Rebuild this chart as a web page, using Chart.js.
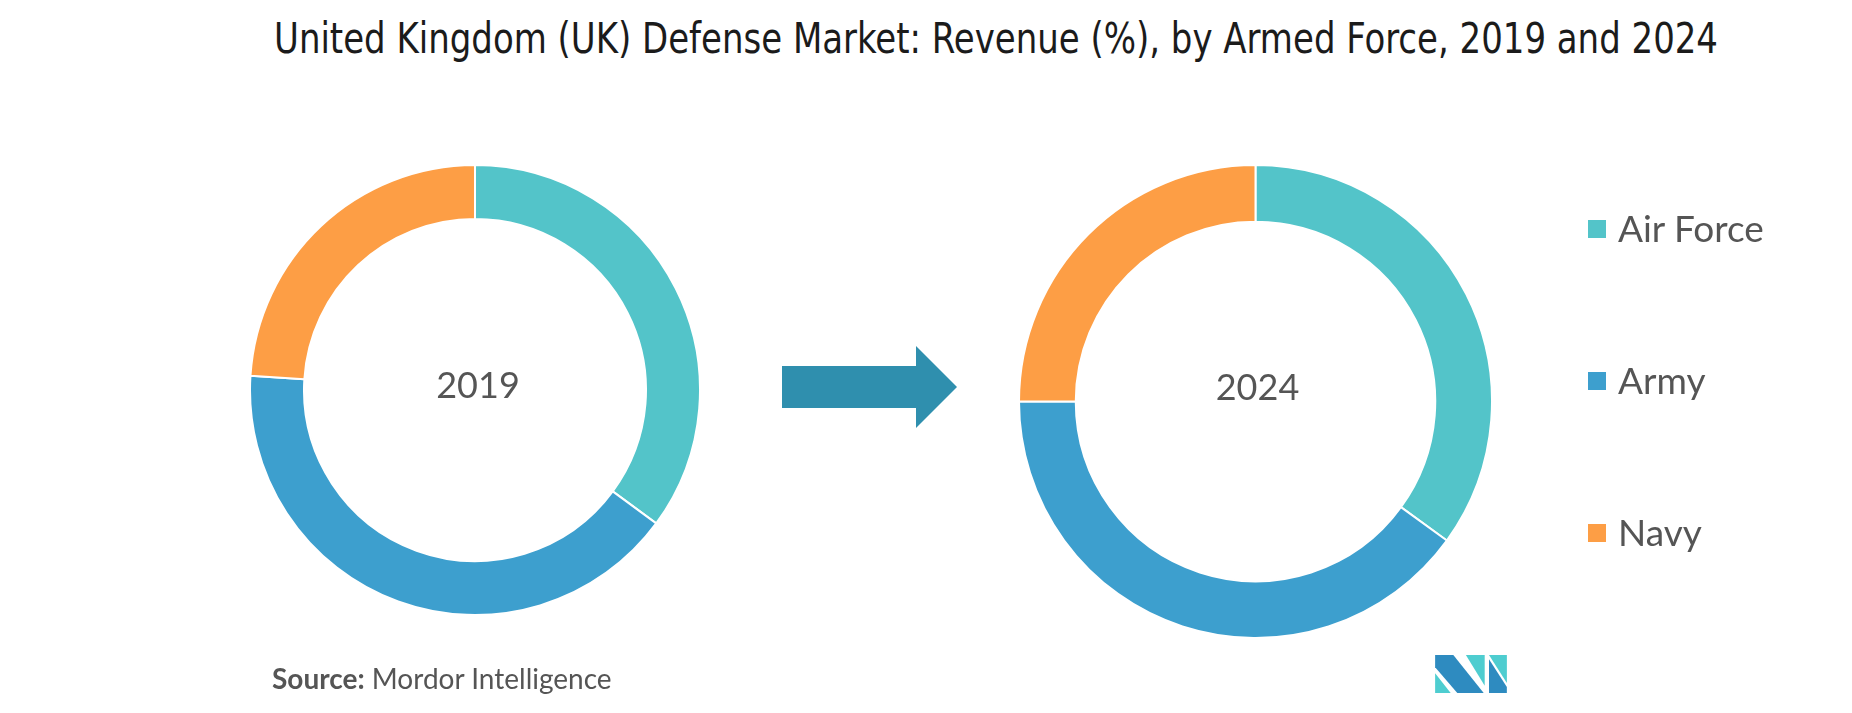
<!DOCTYPE html>
<html>
<head>
<meta charset="utf-8">
<script src="https://cdn.jsdelivr.net/npm/chart.js@4.4.1/dist/chart.umd.min.js"></script>
<style>
    html, body { margin: 0; padding: 0; background: #fff; }
    #page { position: relative; width: 1852px; height: 713px; overflow: hidden; font-family: Lato, 'Open Sans', sans-serif; }
    #title { position: absolute; left: 274px; top: 14px; white-space: nowrap; }
    #title span { display: inline-block; font-family: 'Liberation Sans Narrow', 'DejaVu Sans Condensed', Lato, sans-serif; font-size: 42px; color: #1b1b1b; transform-origin: left center; }
    .donut { position: absolute; }
    #legend { position: absolute; left: 1588px; top: 207px; }
    .leg-item { display: flex; align-items: center; height: 40px; margin-bottom: 112px; color: #555; font-size: 37px; }
    .leg-box { width: 18px; height: 18px; margin-right: 12px; margin-top: 4px; }
    #source { position: absolute; left: 272px; top: 661px; font-size: 28px; color: #555; white-space: nowrap; }
    #arrow, #logo { position: absolute; }
</style>
</head>
<body>
<div id="page">
    <div id="title"><span id="titleText">United Kingdom (UK) Defense Market: Revenue (%), by Armed Force, 2019 and 2024</span></div>

    <canvas id="chart2019" class="donut" width="452" height="452" style="left:248.5px; top:164px;"></canvas>
    <canvas id="chart2024" class="donut" width="475" height="475" style="left:1018px; top:163.5px;"></canvas>

    <svg id="arrow" width="1852" height="713" style="left:0; top:0; pointer-events:none;">
        <polygon points="782,366 916,366 916,346 957,387 916,428 916,408 782,408" fill="#2f8fae"/>
    </svg>

    <div id="legend"></div>

    <div id="source"><b>Source:</b> Mordor Intelligence</div>

    <svg id="logo" viewBox="105 75 217 115" width="72" height="38" style="left:1435px; top:655px;">
        <polygon points="105,75 160,75 252,190 172,190 105,112" fill="#2e8bc0"/>
        <polygon points="105,130 105,190 152,190" fill="#4ecdd0"/>
        <polygon points="198,75 255,75 255,168" fill="#4ecdd0"/>
        <polygon points="268,75 322,75 322,160" fill="#4ecdd0"/>
        <polygon points="268,88 322,172 322,190 268,190" fill="#2e8bc0"/>
    </svg>
</div>

<script>
// data
const forces = ['Air Force', 'Army', 'Navy'];
const share2019 = [35.1, 40.9, 24.0];
const share2024 = [35.0, 40.0, 25.0];
const forceColors = ['#53c4c9', '#3d9fce', '#fd9e45'];

// year text in the middle of each ring
const centerLabel = {
    id: 'centerLabel',
    afterDraw(chart, args, opts) {
        const arc = chart.getDatasetMeta(0).data[0];
        if (!arc) return;
        const ctx = chart.ctx;
        ctx.save();
        ctx.font = '36px Lato';
        ctx.fillStyle = '#555';
        ctx.textAlign = 'center';
        ctx.textBaseline = 'middle';
        ctx.fillText(opts.text, arc.x + (opts.dx || 0), arc.y + (opts.dy || 0));
        ctx.restore();
    }
};

function makeDonut(id, values, year, dx, dy) {
    return new Chart(document.getElementById(id), {
        type: 'doughnut',
        data: {
            labels: forces,
            datasets: [{
                data: values,
                backgroundColor: forceColors,
                borderColor: '#fff',
                borderWidth: 2,
                hoverBorderWidth: 2
            }]
        },
        options: {
            responsive: false,
            animation: false,
            cutout: '76%',
            layout: { padding: 0 },
            plugins: {
                legend: { display: false },
                tooltip: { enabled: false },
                centerLabel: { text: year, dx: dx, dy: dy }
            }
        },
        plugins: [centerLabel]
    });
}

makeDonut('chart2019', share2019, '2019', 3, -4);
makeDonut('chart2024', share2024, '2024', 2, -13);

// legend
const legend = document.getElementById('legend');
forces.forEach((name, i) => {
    const item = document.createElement('div');
    item.className = 'leg-item';
    item.innerHTML = `<span class="leg-box" style="background:${forceColors[i]}"></span><span>${name}</span>`;
    legend.appendChild(item);
});

// squeeze title to the reference width
const t = document.getElementById('titleText');
const w = t.getBoundingClientRect().width;
t.style.transform = `scaleX(${1444 / w})`;
</script>
</body>
</html>
